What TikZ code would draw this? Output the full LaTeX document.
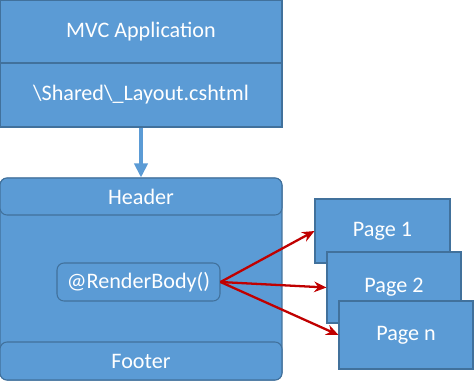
\documentclass[tikz,border=0pt]{standalone}
\usepackage{fontspec}
\setmainfont{Carlito}
\usepackage{xcolor}
\usetikzlibrary{arrows.meta, positioning}
\definecolor{boxblue}{RGB}{91, 155, 213}
\definecolor{edgeblue}{RGB}{65, 113, 156}
\definecolor{linkred}{RGB}{192, 0, 0}
\tikzset{
  block/.style={draw=edgeblue, fill=boxblue, line width=0.6pt, text=white,
    font=\fontsize{12.6}{14}\selectfont, inner sep=0pt},
  part/.style={block, rounded corners=4pt},
  link/.style={draw=linkred, line width=1.3pt, -{Stealth[length=7pt, width=6pt]}}
}

\begin{document}
\begin{tikzpicture}[x=0.02cm, y=-0.02cm]
    \useasboundingbox (0,0) rectangle (474,387);
    % Application and layout file
    \node[block, minimum width=5.64cm, minimum height=1.26cm] (app) at (141,31.5) {MVC Application};
    \node[block, minimum width=5.64cm, minimum height=1.28cm] (layout) at (141,95) {\textbackslash Shared\textbackslash\_Layout.cshtml};
    % Layout page
    \node[part, minimum width=5.64cm, minimum height=4.04cm] (body) at (141,279) {};
    \node[part, minimum width=5.64cm, minimum height=0.74cm] (header) at (141,196.5) {Header};
    \node[part, minimum width=5.64cm, minimum height=0.76cm] (footer) at (141,361) {Footer};
    \node[part, minimum width=3.26cm, minimum height=0.76cm] (render) at (138.5,282) {@RenderBody()};
    \draw[draw=boxblue, line width=2.5pt, -{Triangle[length=8pt, width=7.5pt]}] (layout.south) -- (body.north);
    % Content pages
    \node[block, minimum width=2.7cm, minimum height=1.28cm] (page1) at (382.5,231) {Page 1};
    \node[block, minimum width=2.68cm, minimum height=1.42cm] (page2) at (394,287.5) {Page 2};
    \node[block, minimum width=2.68cm, minimum height=1.36cm] (pagen) at (406,335) {Page n};
    % Links
    \draw[link] (render.east) -- (page1.west);
    \draw[link] (render.east) -- (page2.west);
    \draw[link] (render.east) -- (pagen.west);
\end{tikzpicture}
\end{document}
